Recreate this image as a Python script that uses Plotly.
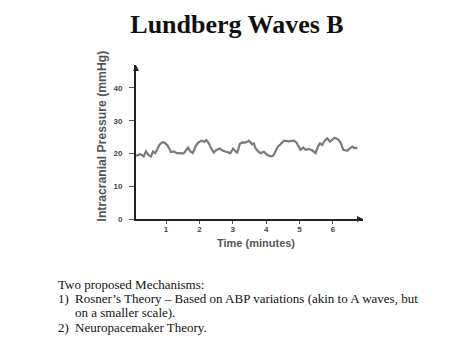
import plotly.graph_objects as go

# ---- data ----
time_min = [0.10, 0.23, 0.33, 0.40, 0.48, 0.55, 0.61, 0.68, 0.73, 0.80, 0.88, 0.96,
            1.05, 1.11, 1.15, 1.23, 1.33, 1.53, 1.61, 1.66, 1.73, 1.80, 1.88, 1.95,
            2.05, 2.15, 2.21, 2.28, 2.35, 2.43, 2.51, 2.61, 2.71, 2.83, 2.93, 3.01,
            3.08, 3.13, 3.21, 3.28, 3.38, 3.48, 3.58, 3.63, 3.68, 3.76, 3.83, 3.93,
            4.03, 4.13, 4.21, 4.28, 4.35, 4.43, 4.53, 4.68, 4.83, 4.91, 4.98, 5.03,
            5.11, 5.18, 5.28, 5.38, 5.48, 5.55, 5.61, 5.68, 5.75, 5.83, 5.91, 5.98,
            6.05, 6.15, 6.23, 6.31, 6.43, 6.51, 6.58, 6.65, 6.73]
icp_mmhg = [19.3, 19.8, 19.1, 20.6, 19.5, 19.1, 20.6, 20.1, 21.1, 22.6, 23.4, 23.3,
            22.4, 21.1, 20.4, 20.6, 20.1, 20.0, 21.3, 21.8, 20.6, 20.1, 22.1, 23.2,
            23.9, 23.6, 24.1, 23.1, 21.6, 20.3, 21.1, 21.5, 20.8, 20.3, 20.1, 21.5,
            20.6, 20.1, 22.9, 23.4, 23.3, 23.9, 22.8, 23.1, 21.6, 20.6, 20.1, 20.5,
            19.6, 19.1, 19.3, 20.9, 22.1, 22.8, 23.9, 23.7, 23.9, 23.3, 22.1, 21.1,
            21.8, 21.1, 21.4, 20.9, 20.1, 22.1, 23.1, 22.6, 23.9, 24.6, 23.6, 24.3,
            24.8, 24.3, 23.3, 21.1, 20.8, 21.6, 22.1, 21.6, 21.8]
x_ticks = [1, 2, 3, 4, 5, 6]
x_tick_labels = ["1", "2", "3", "4", "5", "6"]
y_ticks = [0, 10, 20, 30, 40]
y_tick_labels = ["0", "10", "20", "30", "40"]

title_text = "Lundberg Waves B"
x_title = "Time (minutes)"
y_title = "Intracranial Pressure (mmHg)"
body_lines = [
    ("", "Two proposed Mechanisms:"),
    ("1)", "Rosner\u2019s Theory \u2013 Based on ABP variations (akin to A waves, but"),
    ("", "on a smaller scale)."),
    ("2)", "Neuropacemaker Theory."),
]

# ---- layout geometry (pixels) ----
W, H = 474, 355
L, R, T, B = 136, 363, 65, 219
pw, ph = R - L, B - T


def px(x):
    return (x - L) / pw


def py(y):
    return (B - y) / ph


fig = go.Figure()
fig.add_trace(go.Scatter(x=time_min, y=icp_mmhg, mode="lines",
                         line=dict(color="#7a7a7a", width=2.2), hoverinfo="skip"))

tick_font = dict(family="Liberation Sans", size=8, color="#444", weight="bold")
fig.update_xaxes(range=[0.1, 6.9], tickvals=x_ticks, ticktext=x_tick_labels,
                 showgrid=False, zeroline=False, showline=True, linecolor="#222",
                 linewidth=2, ticks="outside", ticklen=3, tickcolor="#555",
                 tickfont=tick_font, ticklabelstandoff=-2)
fig.update_yaxes(range=[0, 47], tickvals=y_ticks, ticktext=y_tick_labels,
                 showgrid=False, zeroline=False, showline=True, linecolor="#222",
                 linewidth=2, ticks="outside", ticklen=5, tickcolor="#555",
                 tickfont=tick_font, ticklabelstandoff=5)

ann = []
# axis titles
ann.append(dict(text=y_title, xref="paper", yref="paper", x=px(101.5), y=py(136),
                textangle=-90, showarrow=False, xanchor="center", yanchor="middle",
                font=dict(family="Liberation Sans", size=12.2, color="#555", weight="bold")))
ann.append(dict(text=x_title, xref="paper", yref="paper", x=px(256), y=py(243),
                showarrow=False, xanchor="center", yanchor="middle",
                font=dict(family="Liberation Sans", size=11, color="#555", weight="bold")))
# axis arrowheads
ann.append(dict(xref="paper", yref="paper", x=1.0, y=0, ax=-6, ay=0, text="",
                showarrow=True, arrowhead=2, arrowsize=0.8, arrowwidth=1.5, arrowcolor="#222"))
ann.append(dict(xref="paper", yref="paper", x=0, y=1.0, ax=0, ay=6, text="",
                showarrow=True, arrowhead=2, arrowsize=0.8, arrowwidth=1.5, arrowcolor="#222"))
# body text
body_font = dict(family="Liberation Serif", size=13, color="#111")
y0, dy = 284.5, 14.2
for i, (num, txt) in enumerate(body_lines):
    yy = y0 + i * dy
    if num:
        ann.append(dict(text=num, xref="paper", yref="paper", x=px(56), y=py(yy),
                        showarrow=False, xanchor="left", yanchor="middle", font=body_font))
    xx = 56 if (i == 0) else 73
    ann.append(dict(text=txt, xref="paper", yref="paper", x=px(xx), y=py(yy),
                    showarrow=False, xanchor="left", yanchor="middle", font=body_font))

fig.update_layout(
    width=W, height=H,
    margin=dict(l=L, r=W - R, t=T, b=H - B),
    paper_bgcolor="white", plot_bgcolor="white",
    showlegend=False,
    title=dict(text=title_text, x=0.5, xanchor="center", y=1 - 24 / H, yanchor="middle",
               font=dict(family="Liberation Serif", size=26, color="#111", weight="bold")),
    annotations=ann,
)

fig.write_html("out.html", config={"displayModeBar": False},
               post_script="document.body.style.margin='0';")
